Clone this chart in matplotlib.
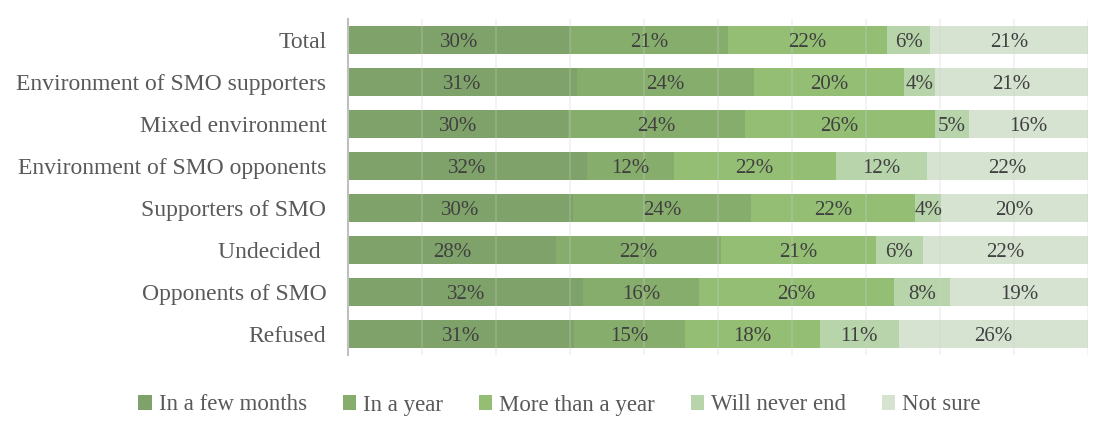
import matplotlib
matplotlib.use("Agg")
import matplotlib.pyplot as plt
import numpy as np

categories = ["Total", "Environment of SMO supporters", "Mixed environment",
              "Environment of SMO opponents", "Supporters of SMO", "Undecided ",
              "Opponents of SMO", "Refused"]
series_names = ["In a few months", "In a year", "More than a year",
                "Will never end", "Not sure"]
few_months = [30.0, 30.9, 29.7, 32.3, 30.4, 28.1, 31.8, 30.6]
in_a_year = [21.3, 24.0, 23.9, 11.7, 24.1, 22.3, 15.6, 14.9]
more_than_year = [21.6, 20.3, 25.7, 21.9, 22.1, 20.9, 26.4, 18.3]
never_end = [5.8, 4.1, 4.6, 12.4, 3.6, 6.4, 7.6, 10.6]
not_sure = [21.3, 20.7, 16.1, 21.7, 19.8, 22.3, 18.6, 25.6]

colors = ["#7fa26a", "#87ad6d", "#93be74", "#b8d4ab", "#d6e3d1"]

plt.rcParams['font.family'] = ['Liberation Serif', 'DejaVu Serif']

fig = plt.figure(figsize=(11.08, 4.34), dpi=100)
ax = fig.add_axes([348/1108, 1-355/434, (1088-348)/1108, (355-19)/434])

data = [few_months, in_a_year, more_than_year, never_end, not_sure]
y = np.arange(len(categories))
left = np.zeros(len(categories))
for vals, name, c in zip(data, series_names, colors):
    vals = np.array(vals)
    ax.barh(y, vals, left=left, height=0.65, color=c, label=name, zorder=2)
    for yi, l, v in zip(y, left, vals):
        ax.text(l + v/2, yi, f"{v:.0f}%", ha="center", va="center_baseline",
                fontsize=15, color="#404040", zorder=4)
    left += vals

ax.set_xlim(0, 100)
ax.set_ylim(len(categories)-0.5, -0.5)
ax.set_xticks(np.arange(0, 101, 10))
ax.set_xticklabels([])
ax.tick_params(axis='x', length=0)
ax.set_yticks(y)
ax.set_yticklabels(categories)
ax.tick_params(axis='y', length=0, pad=15.5, labelsize=17, labelcolor="#595959")
ax.grid(axis='x', color="#d0d0d0", linewidth=1.2, alpha=0.3, zorder=3)
ax.set_axisbelow(False)
for s in ["top", "right", "bottom"]:
    ax.spines[s].set_visible(False)
ax.spines["left"].set_color("#bfbfbf")
ax.spines["left"].set_linewidth(1.5)
ax.spines["left"].set_zorder(5)

handles, labels = ax.get_legend_handles_labels()
leg = fig.legend(handles, labels, loc="center", bbox_to_anchor=(0.505, 1-405/434),
                 ncol=5, frameon=False, fontsize=16.5, handlelength=0.6,
                 handleheight=0.6, handletextpad=0.3, columnspacing=1.55,
                 labelcolor="#595959")

fig.savefig("out.png", dpi=100)
